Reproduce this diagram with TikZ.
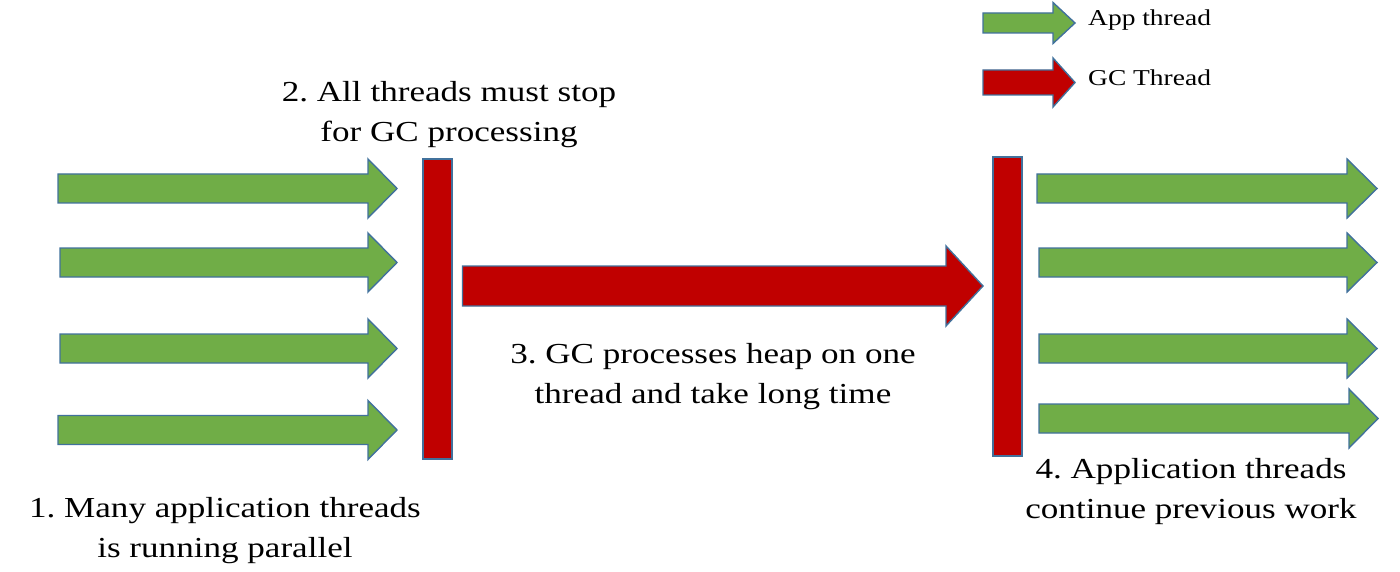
\documentclass[tikz,border=0pt]{standalone}
\usepackage{fontspec}
\setmainfont{Liberation Serif}[FakeStretch=1.21]
\definecolor{appgreen}{HTML}{70AD47}
\definecolor{gcred}{HTML}{C00000}
\definecolor{edgeblue}{HTML}{41719C}
\tikzset{
  appfill/.style={fill=appgreen, draw=edgeblue, line width=1.4pt, line join=miter},
  gcfill/.style={fill=gcred, draw=edgeblue, line width=1.4pt},
  label/.style={font=\fontsize{29}{40}\selectfont, align=center, inner sep=0pt, anchor=base, text=black},
  legendlabel/.style={font=\fontsize{22.7}{30}\selectfont, inner sep=0pt, anchor=base west, text=black}
}
% #1 style, #2 left x, #3 head start x, #4 tip x, #5 centre y, #6 shaft half, #7 head half
\newcommand{\fatarrow}[7]{%
  \draw[#1] (#2,#5-#6) -- (#3,#5-#6) -- (#3,#5-#7) -- (#4,#5) -- (#3,#5+#7) -- (#3,#5+#6) -- (#2,#5+#6) -- cycle;}
\begin{document}
\frenchspacing
\begin{tikzpicture}[x=1pt,y=-1pt]
\useasboundingbox (0,0) rectangle (1400,572);
% legend
\fatarrow{appfill}{983}{1053}{1075}{23}{10}{20.5}
\node[legendlabel] (lapp) at (1088,26) {App thread};
\fatarrow{gcfill}{983}{1053}{1075}{82.5}{12.5}{24.5}
\node[legendlabel] (lgc) at (1088,86) {GC Thread};
% left app threads
\fatarrow{appfill}{58}{368}{397}{188.5}{14.5}{29.5}
\fatarrow{appfill}{60}{368}{397}{262.5}{14.5}{29.5}
\fatarrow{appfill}{60}{368}{397}{348.5}{14.5}{29.5}
\fatarrow{appfill}{58}{368}{397}{430}{14.5}{29.5}
% left stop bar
\draw[gcfill] (423,159) rectangle (452,459);
% GC thread
\fatarrow{gcfill}{462.5}{946}{983}{286}{20}{40}
% right stop bar
\draw[gcfill] (993,157) rectangle (1022,456);
% right app threads
\fatarrow{appfill}{1037}{1347}{1377}{188.5}{14.5}{29.5}
\fatarrow{appfill}{1039}{1347}{1377}{262.5}{14.5}{29.5}
\fatarrow{appfill}{1039}{1347}{1377}{348.5}{14.5}{29.5}
\fatarrow{appfill}{1039}{1349}{1378}{418.5}{14.5}{29.5}
% labels (base = baseline of the last line)
\node[label] (t2) at (449,142) {2. All threads must stop\\for GC processing};
\node[label] (t1) at (225,557) {1. Many application threads\\is running parallel};
\node[label] (t3) at (713,403) {3. GC processes heap on one\\thread and take long time};
\node[label] (t4) at (1191,518) {4. Application threads\\continue previous work};
\end{tikzpicture}
\end{document}
